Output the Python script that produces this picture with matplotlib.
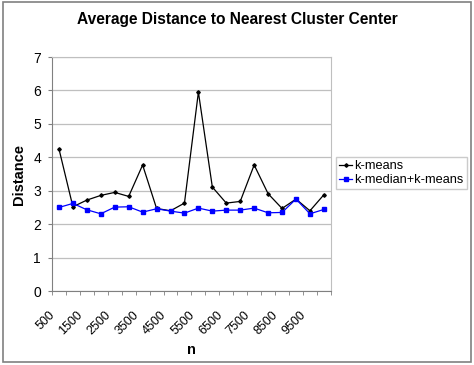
import numpy as np
import matplotlib.pyplot as plt
from matplotlib.transforms import ScaledTranslation
from matplotlib.patches import Rectangle

plt.rcParams['font.family'] = ['Liberation Sans', 'DejaVu Sans']

# data
n_values = [500, 1000, 1500, 2000, 2500, 3000, 3500, 4000, 4500, 5000,
            5500, 6000, 6500, 7000, 7500, 8000, 8500, 9000, 9500, 10000]
kmeans = [4.25, 2.52, 2.72, 2.86, 2.95, 2.83, 3.77, 2.47, 2.40, 2.63,
          5.95, 3.11, 2.63, 2.68, 3.77, 2.91, 2.47, 2.75, 2.40, 2.88]
kmedian_kmeans = [2.50, 2.62, 2.43, 2.31, 2.51, 2.52, 2.36, 2.46, 2.39, 2.33,
                  2.48, 2.39, 2.42, 2.42, 2.48, 2.34, 2.35, 2.75, 2.31, 2.44]
y_ticks = [0, 1, 2, 3, 4, 5, 6, 7]

fig = plt.figure(figsize=(4.74, 3.65), dpi=100)
ax = fig.add_axes([0.1097, 0.2027, 0.5883, 0.6411])

x = np.arange(len(n_values))
ax.plot(x, kmeans, color='black', lw=0.9, marker='D', ms=1.8, label='k-means')
ax.plot(x, kmedian_kmeans, color='#0000ff', lw=0.9, marker='s', ms=3.2,
        label='k-median+k-means')

ax.set_xlim(-0.5, len(n_values) - 0.5)
ax.set_ylim(0, 7)
ax.set_yticks(y_ticks)
ax.yaxis.grid(True, color='#bfbfbf', lw=0.9)
ax.set_axisbelow(True)

# category axis: ticks on boundaries, labels on every other category
ax.set_xticks(np.arange(-0.5, len(n_values)), minor=True)
ax.set_xticks(x[::2])
ax.set_xticklabels([str(v) for v in n_values[::2]], rotation=45,
                   ha='right', va='top', rotation_mode='anchor')
ax.tick_params(axis='x', which='major', length=0, labelsize=9, pad=13)
ax.tick_params(axis='x', which='minor', length=3, color='#808080', direction='out')
ax.tick_params(axis='y', length=3, color='#808080', labelsize=10, pad=5)
off = ScaledTranslation(-10 / 100, 0, fig.dpi_scale_trans)
for lab in ax.get_xticklabels():
    lab.set_transform(lab.get_transform() + off)

for side in ['left', 'bottom']:
    ax.spines[side].set_color('#808080')
for side in ['top', 'right']:
    ax.spines[side].set_color('#bfbfbf')

ax.set_xlabel('n', fontweight='bold', fontsize=10.5, labelpad=4)
ax.set_ylabel('Distance', fontweight='bold', fontsize=10.5, labelpad=5)
fig.suptitle('Average Distance to Nearest Cluster Center', fontweight='bold',
             fontsize=11.2, x=0.5, y=0.968)

ax.legend(loc='upper left', bbox_to_anchor=(0.709, 0.570),
          bbox_transform=fig.transFigure, fontsize=9.2, frameon=True,
          fancybox=False, edgecolor='#bfbfbf', handlelength=1.0,
          handletextpad=0.2, borderpad=0.25, labelspacing=0.15, borderaxespad=0)

fig.patches.append(Rectangle((0.006, 0.008), 0.988, 0.986, transform=fig.transFigure,
                             fill=False, edgecolor='#808080', lw=1.2))

fig.savefig('out.png', dpi=100)
